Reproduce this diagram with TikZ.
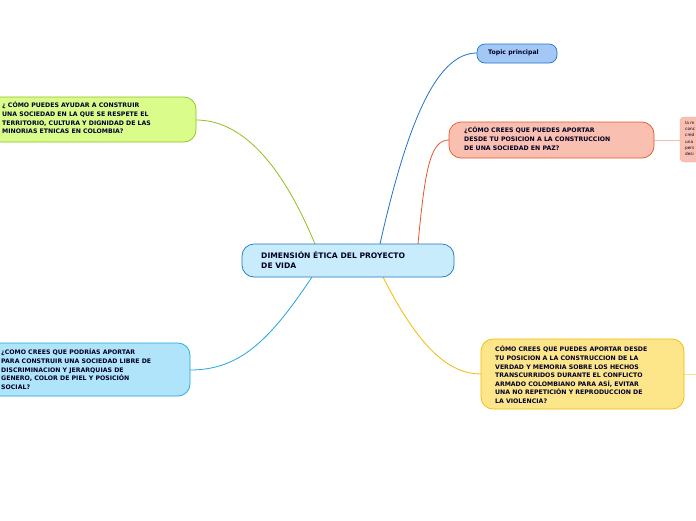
\documentclass[tikz,border=0pt]{standalone}
\usepackage{fontspec}
\setmainfont{DejaVu Sans}
\begin{document}
\begin{tikzpicture}[x=1pt,y=-1pt,
  box/.style={rounded corners=12pt,line width=0.7pt},
  txt/.style={font=\bfseries\fontsize{6.2}{8.6}\selectfont,text=black!85!blue,align=left,anchor=north west,inner sep=0pt},
  conn/.style={line width=0.8pt}]
\useasboundingbox (0,0) rectangle (696,520);
\clip (0,0) rectangle (696,520);
\definecolor{cb}{HTML}{C9ECFC}\definecolor{cbd}{HTML}{1E74C8}
\definecolor{tp}{HTML}{A3C8F5}
\definecolor{rf}{HTML}{F9BFB0}\definecolor{rd}{HTML}{E8542A}
\definecolor{yf}{HTML}{FDE58A}\definecolor{yd}{HTML}{F5B800}
\definecolor{gf}{HTML}{D9FC8A}\definecolor{gd}{HTML}{8CC21A}
\definecolor{bf}{HTML}{B0E4FB}\definecolor{bd}{HTML}{1DA6E0}
% connectors
\coordinate (c1) at (380,244); \coordinate (c2) at (418,244);
\coordinate (c3) at (383,277); \coordinate (c4) at (315,244); \coordinate (c5) at (312,277);
\coordinate (t) at (477,53); \coordinate (r) at (449,140); \coordinate (y) at (481,374);
\coordinate (g) at (196,120); \coordinate (b) at (190,370);
\draw[conn,cbd] (c1) .. controls (410,110) and (440,53) .. (t);
\draw[conn,rd] (c2) .. controls (425,170) and (430,140) .. (r);
\draw[conn,yd] (c3) .. controls (420,350) and (450,374) .. (y);
\draw[conn,gd] (c4) .. controls (280,160) and (240,120) .. (g);
\draw[conn,bd] (c5) .. controls (270,340) and (240,370) .. (b);
\coordinate (re) at (654,140); \coordinate (sm) at (680,140);
\draw[rd!40,line width=0.7pt] (re) -- (sm);
\coordinate (ye) at (684,374); \coordinate (yo) at (696,374);
\draw[yd!40,line width=0.7pt] (ye) -- (yo);
% nodes
\draw[box,fill=cb,draw=cbd] (242,244) rectangle (454,277);
\node[txt,font=\bfseries\fontsize{7.6}{10}\selectfont] (main) at (261,251) {DIMENSIÓN ÉTICA DEL PROYECTO\\DE VIDA};
\draw[box,rounded corners=8pt,fill=tp,draw=cbd] (477,44) rectangle (557,63);
\node[txt] (topic) at (488,50) {Topic principal};
\draw[box,fill=rf,draw=rd] (449,122) rectangle (654,158);
\node[txt] (red) at (464,127) {¿CÓMO CREES QUE PUEDES APORTAR\\DESDE TU POSICION A LA CONSTRUCCION\\DE UNA SOCIEDAD EN PAZ?};
\draw[rounded corners=4pt,fill=rf,draw=rf!80!rd] (680,117) rectangle (710,162);
\node[txt,font=\fontsize{4.2}{6.3}\selectfont] (small) at (685,121) {la m\\conc\\cred\\una\\pers\\desi};
\draw[box,fill=yf,draw=yd] (481,339) rectangle (684,409);
\node[txt] (yel) at (495,346) {CÓMO CREES QUE PUEDES APORTAR DESDE\\TU POSICION A LA CONSTRUCCION DE LA\\VERDAD Y MEMORIA SOBRE LOS HECHOS\\TRANSCURRIDOS DURANTE EL CONFLICTO\\ARMADO COLOMBIANO PARA ASÍ, EVITAR\\UNA NO REPETICIÓN Y REPRODUCCION DE\\LA VIOLENCIA?};
\draw[box,fill=gf,draw=gd] (-12,97) rectangle (196,142);
\node[txt] (green) at (2,102) {¿ CÓMO PUEDES AYUDAR A CONSTRUIR\\UNA SOCIEDAD EN LA QUE SE RESPETE EL\\TERRITORIO, CULTURA Y DIGNIDAD DE LAS\\MINORIAS ETNICAS EN COLOMBIA?};
\draw[box,fill=bf,draw=bd] (-12,343) rectangle (190,396);
\node[txt] (blue) at (1,349) {¿COMO CREES QUE PODRÍAS APORTAR\\PARA CONSTRUIR UNA SOCIEDAD LIBRE DE\\DISCRIMINACION Y JERARQUIAS DE\\GENERO, COLOR DE PIEL Y POSICIÓN\\SOCIAL?};
\end{tikzpicture}
\end{document}
